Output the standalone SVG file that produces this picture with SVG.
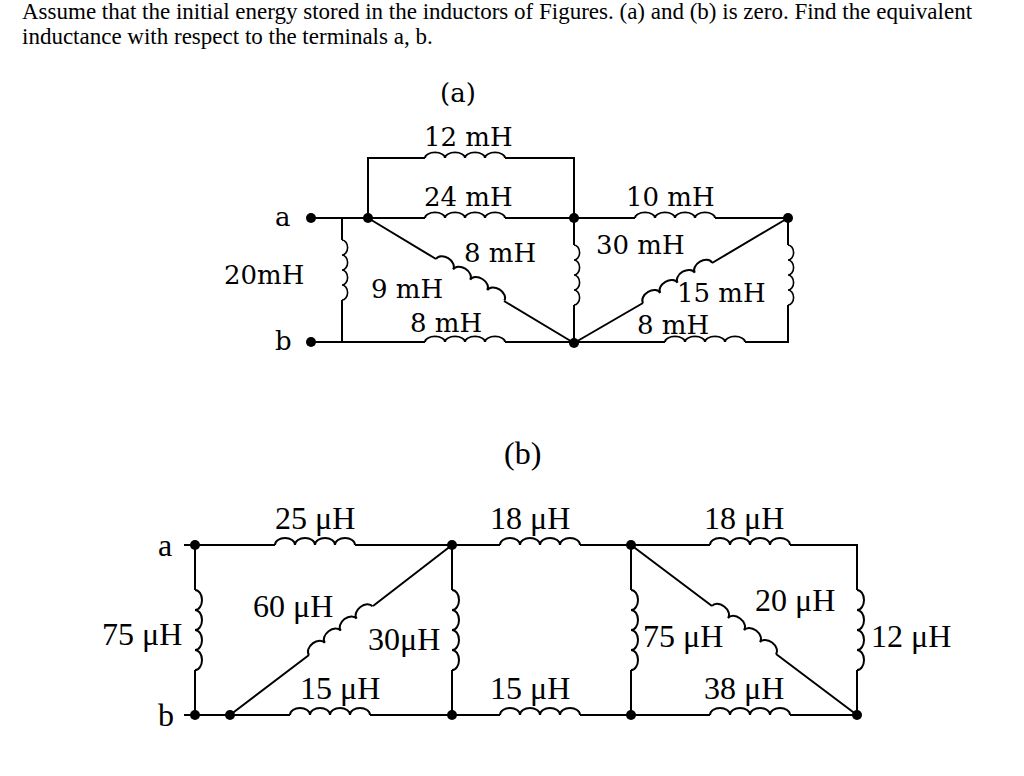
<svg xmlns="http://www.w3.org/2000/svg" width="1024" height="776" viewBox="0 0 1024 776">
<style>
.w{fill:none;stroke:#000;stroke-width:2}
.t{fill:#000}
.h{font-family:"Liberation Serif",serif;font-size:23px}
.la{font-family:"DejaVu Serif",serif;font-size:26px}
.lb{font-family:"Liberation Serif",serif;font-size:32px}
.d{fill:#000}
</style>
<defs>
<path id="c" class="w" d="M0,0 a10,7 0 0 1 20,0 a10,7 0 0 1 20,0 a10,7 0 0 1 20,0 a10,7 0 0 1 20,0"/>
</defs>
<rect width="1024" height="776" fill="#fff"/>
<text class="t h" x="22" y="19">Assume that the initial energy stored in the inductors of Figures. (a) and (b) is zero. Find the equivalent</text>
<text class="t h" x="22" y="44">inductance with respect to the terminals a, b.</text>

<g id="connectors">
<path class="w" d="M311,218 H425 M505,218 H635 M715,218 H788 V245 M788,305 V342 H745 M665,342 H574 M574,218 V245 M574,305 V342 M311,342 H425 M505,342 H574 M342,218 V240 M342,300 V342 M368,218 V158 H425 M505,158 H574 V218"/>
<path class="w" d="M368,218 L436,259 M504,301 L574,343 M574,343 L643,303 M712,263 L788,218"/>
<path class="w" d="M184,545 H275 M355,545 H500 M580,545 H710 M790,545 H857 V590 M857,670 V715 H790 M710,715 H580 M500,715 H370 M290,715 H184 M195,545 V590 M195,670 V715 M452,545 V590 M452,670 V715 M631,545 V590 M631,670 V715"/>
<path class="w" d="M230,715 L309,655 M373,606 L452,545 M631,545 L712,606 M776,654 L857,715"/>
</g>

<g id="inductors">
<use href="#c" transform="translate(425,158) scale(1,0.8)"/>
<use href="#c" transform="translate(425,218) scale(1,0.8)"/>
<use href="#c" transform="translate(635,218) scale(1,0.8)"/>
<use href="#c" transform="translate(425,342) scale(1,0.8)"/>
<use href="#c" transform="translate(665,342) scale(1,0.8)"/>
<use href="#c" transform="translate(342,240) rotate(90) scale(0.75,0.8)"/>
<use href="#c" transform="translate(574,245) rotate(90) scale(0.75,0.8)"/>
<use href="#c" transform="translate(788,245) rotate(90) scale(0.75,0.8)"/>
<use href="#c" transform="translate(436,259) rotate(31.3)"/>
<use href="#c" transform="translate(643,303) rotate(-30.3)"/>
<use href="#c" transform="translate(275,545)"/>
<use href="#c" transform="translate(500,545)"/>
<use href="#c" transform="translate(710,545)"/>
<use href="#c" transform="translate(290,715)"/>
<use href="#c" transform="translate(500,715)"/>
<use href="#c" transform="translate(710,715)"/>
<use href="#c" transform="translate(195,590) rotate(90)"/>
<use href="#c" transform="translate(452,590) rotate(90)"/>
<use href="#c" transform="translate(631,590) rotate(90)"/>
<use href="#c" transform="translate(857,590) rotate(90)"/>
<use href="#c" transform="translate(309,655) rotate(-37.4)"/>
<use href="#c" transform="translate(712,606) rotate(37)"/>
</g>

<g id="nodes">
<circle class="d" cx="311" cy="218" r="5"/><circle class="d" cx="368" cy="218" r="5"/>
<circle class="d" cx="574" cy="218" r="5"/><circle class="d" cx="788" cy="218" r="5"/>
<circle class="d" cx="311" cy="342" r="5"/><circle class="d" cx="574" cy="343" r="5"/>
<circle class="d" cx="195" cy="545" r="5"/><circle class="d" cx="452" cy="545" r="5"/>
<circle class="d" cx="631" cy="545" r="5"/><circle class="d" cx="195" cy="715" r="5"/>
<circle class="d" cx="230" cy="715" r="5"/><circle class="d" cx="452" cy="715" r="5"/>
<circle class="d" cx="631" cy="715" r="5"/><circle class="d" cx="857" cy="715" r="5"/>
</g>

<g id="labels">
<text class="t la" x="440" y="102">(a)</text>
<text class="t la" x="424" y="146">12 mH</text>
<text class="t la" x="424" y="206">24 mH</text>
<text class="t la" x="626" y="206">10 mH</text>
<text class="t la" x="275" y="226">a</text>
<text class="t la" x="464" y="262">8 mH</text>
<text class="t la" x="596" y="254">30 mH</text>
<text class="t la" x="224" y="284">20mH</text>
<text class="t la" x="371" y="298">9 mH</text>
<text class="t la" x="677" y="302">15 mH</text>
<text class="t la" x="410" y="332">8 mH</text>
<text class="t la" x="637" y="334">8 mH</text>
<text class="t la" x="275" y="350">b</text>
<text class="t lb" x="504" y="464">(b)</text>
<text class="t lb" x="275" y="529">25 μH</text>
<text class="t lb" x="490" y="529">18 μH</text>
<text class="t lb" x="704" y="529">18 μH</text>
<text class="t lb" x="158" y="556">a</text>
<text class="t lb" x="253" y="617">60 μH</text>
<text class="t lb" x="755" y="611">20 μH</text>
<text class="t lb" x="102" y="645">75 μH</text>
<text class="t lb" x="368" y="650">30μH</text>
<text class="t lb" x="643" y="647">75 μH</text>
<text class="t lb" x="871" y="647">12 μH</text>
<text class="t lb" x="300" y="699">15 μH</text>
<text class="t lb" x="490" y="699">15 μH</text>
<text class="t lb" x="704" y="699">38 μH</text>
<text class="t lb" x="158" y="726">b</text>
</g>
</svg>
